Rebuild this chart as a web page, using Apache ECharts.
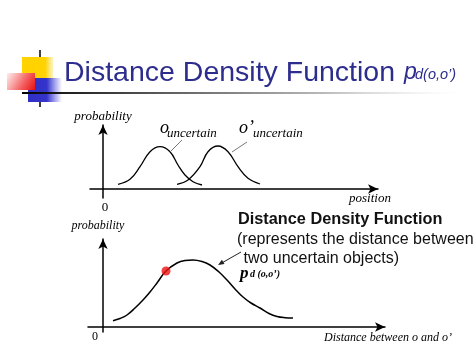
<!DOCTYPE html>
<html>
<head>
<meta charset="utf-8">
<script src="https://cdn.jsdelivr.net/npm/echarts@6/dist/echarts.min.js"></script>
<style>html,body{margin:0;padding:0;background:#fff;}#c{width:474px;height:355px;}</style>
</head>
<body>
<div id="c"></div>
<script>
// Top chart: two uncertain-object position densities [position, probability]
const oUncertain = [[1.5,4.7],[2.7,9.7],[3.7,22.3],[4.7,37.3],[5.7,42.3],[6.7,37.3],[7.5,24],[8.2,14],[9.0,7.3],[9.9,4]];
const o2Uncertain = [[7.4,4.7],[8.5,9],[9.7,22.3],[10.5,37.3],[11.5,43],[12.5,37.3],[13.5,22.3],[14.5,10.7],[15.7,5]];
// Bottom chart: distance density function [distance, probability]
const distDensity = [[1.0,6.3],[1.7,8.5],[2.4,12],[3.2,19],[4.0,27],[4.7,35],[5.4,44],[6.3,56],[7.4,64],[8.2,66.5],[9.0,67],[9.9,65.5],[10.7,62],[11.6,55],[12.4,47],[13.2,38],[14.0,30],[14.8,24],[15.7,19],[16.6,13.5],[17.4,10.5],[18.2,9.3],[19.0,9]];
const markedPoint = [[6.3,56]];
// Texts
const titleText = 'Distance Density Function';
const topYName = 'probability';
const topXName = 'position';
const bottomYName = 'probability';
const bottomXName = 'Distance between o and o\u2019';
const zeroLabel = '0';
const boxLines = ['Distance Density Function', '(represents the distance between', ' two uncertain objects)'];

const chart = echarts.init(document.getElementById('c'), null, {renderer:'canvas'});
const axisLineStyle = {show:true, onZero:true, symbol:['none','arrow'], symbolSize:[7,10], lineStyle:{color:'#000', width:1.5}};
const hidden = {axisTick:{show:false}, axisLabel:{show:false}, splitLine:{show:false}};
const navy = '#2d2d8e';
const serifI = 'italic 13px "Liberation Serif"';

function txt(x, y, text, font, fill, align, z) {
  return {type:'text', x:x, y:y, z:z||10, style:{text:text, font:font, fill:fill||'#000', align:align||'left', verticalAlign:'middle'}};
}

const graphics = [
  // title decoration
  {type:'line', z:1, shape:{x1:40,y1:50,x2:40,y2:107}, style:{stroke:'#000', lineWidth:1.5}},
  {type:'rect', z:2, shape:{x:22,y:57,width:31,height:22}, style:{fill:new echarts.graphic.LinearGradient(0,0,1,0,[{offset:0,color:'#ffd200'},{offset:0.75,color:'#ffd200'},{offset:1,color:'rgba(255,225,80,0.4)'}])}},
  {type:'rect', z:3, shape:{x:28,y:78,width:34,height:24}, style:{fill:new echarts.graphic.LinearGradient(0,0,1,0,[{offset:0,color:'#2f2fc4'},{offset:0.55,color:'#3434cc'},{offset:1,color:'rgba(60,60,220,0)'}])}},
  {type:'rect', z:4, shape:{x:7,y:73,width:28,height:17}, style:{fill:new echarts.graphic.LinearGradient(0,0,1,1,[{offset:0,color:'rgba(255,235,235,0.9)'},{offset:0.6,color:'#f46060'},{offset:1,color:'#e81010'}])}},
  {type:'line', z:5, shape:{x1:22,y1:93,x2:455,y2:93}, style:{stroke:new echarts.graphic.LinearGradient(0,0,1,0,[{offset:0,color:'#000'},{offset:0.3,color:'#555'},{offset:0.7,color:'#bbb'},{offset:1,color:'rgba(230,230,230,0)'}]), lineWidth:2}},
  // title
  txt(64, 73, titleText, '28.5px "Liberation Sans"', navy),
  txt(404, 73, 'p', 'italic 23px "Liberation Sans"', navy),
  txt(415, 75, 'd(o,o\u2019)', 'italic 14.5px "Liberation Sans"', navy),
  // top chart texts
  txt(103, 117, topYName, serifI, '#000', 'center'),
  txt(370, 199, topXName, serifI, '#000', 'center'),
  txt(105, 208, zeroLabel, '13px "Liberation Serif"', '#000', 'center'),
  txt(160, 128, 'o', 'italic 18px "Liberation Serif"'),
  txt(167, 134, 'uncertain', serifI),
  txt(239, 128, 'o\u2019', 'italic 18px "Liberation Serif"'),
  txt(253, 134, 'uncertain', serifI),
  {type:'line', z:10, shape:{x1:182,y1:140,x2:170,y2:152}, style:{stroke:'#777', lineWidth:1}},
  {type:'line', z:10, shape:{x1:247,y1:142,x2:232,y2:152}, style:{stroke:'#777', lineWidth:1}},
  // bottom chart texts
  txt(98, 226, bottomYName, 'italic 12px "Liberation Serif"', '#000', 'center'),
  txt(95, 337, zeroLabel, '12px "Liberation Serif"', '#000', 'center'),
  txt(452, 338, bottomXName, 'italic 12px "Liberation Serif"', '#000', 'right'),
  txt(238, 220, boxLines[0], 'bold 16.3px "Liberation Sans"', '#111'),
  txt(237, 240, boxLines[1], '16px "Liberation Sans"', '#111'),
  txt(239, 259, boxLines[2], '16px "Liberation Sans"', '#111'),
  txt(240, 274, 'p', 'bold italic 17px "Liberation Serif"'),
  txt(250, 274, 'd (o,o\u2019)', 'bold italic 10px "Liberation Serif"'),
  {type:'line', z:10, shape:{x1:241,y1:252,x2:220,y2:264}, style:{stroke:'#222', lineWidth:1}},
  {type:'polygon', z:10, shape:{points:[[218,265],[224.5,264.1],[221.9,259.8]]}, style:{fill:'#222'}}
];

chart.setOption({
  animation:false,
  backgroundColor:'#fff',
  grid:[
    {left:90, right:96, top:125, height:73},
    {left:88, right:89, top:239, height:93}
  ],
  xAxis:[
    Object.assign({type:'value', gridIndex:0, min:-1.3, max:27.5, axisLine:axisLineStyle}, hidden),
    Object.assign({type:'value', gridIndex:1, min:-1.5, max:28.2, axisLine:axisLineStyle}, hidden)
  ],
  yAxis:[
    Object.assign({type:'value', gridIndex:0, min:-9, max:64, axisLine:axisLineStyle}, hidden),
    Object.assign({type:'value', gridIndex:1, min:-5, max:88, axisLine:axisLineStyle}, hidden)
  ],
  series:[
    {type:'line', xAxisIndex:0, yAxisIndex:0, data:oUncertain, smooth:0.4, showSymbol:false, lineStyle:{color:'#000', width:1.3}},
    {type:'line', xAxisIndex:0, yAxisIndex:0, data:o2Uncertain, smooth:0.4, showSymbol:false, lineStyle:{color:'#000', width:1.3}},
    {type:'line', xAxisIndex:1, yAxisIndex:1, data:distDensity, smooth:0.4, showSymbol:false, lineStyle:{color:'#000', width:1.5}},
    {type:'scatter', xAxisIndex:1, yAxisIndex:1, data:markedPoint, symbolSize:9, itemStyle:{color:'#ee1111'}, z:5}
  ],
  graphic:graphics
});
</script>
</body>
</html>
